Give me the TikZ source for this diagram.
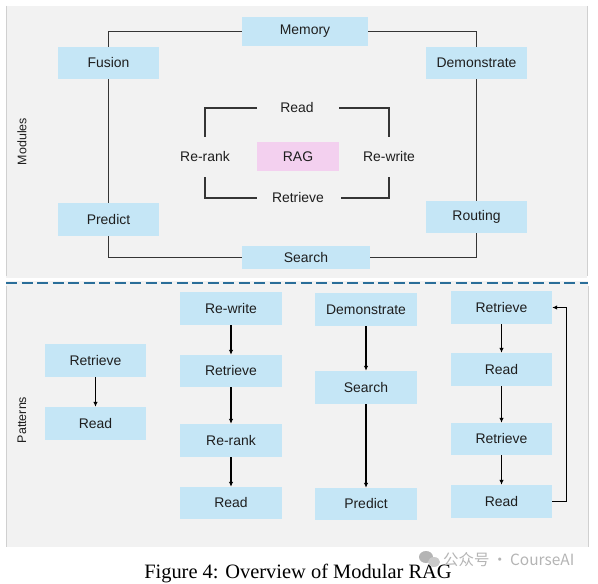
\documentclass[tikz,border=0pt]{standalone}
\usepackage{fontspec}
\setmainfont{Liberation Sans}
\newfontfamily\serifcap{Liberation Serif}
\newfontfamily\cjk{Noto Sans CJK SC}
\usetikzlibrary{arrows.meta}
\definecolor{panel}{HTML}{F2F2F2}
\definecolor{paneledge}{HTML}{D0D0D0}
\definecolor{boxblue}{HTML}{C5E6F6}
\definecolor{boxpink}{HTML}{F3D0EF}
\definecolor{dashblue}{HTML}{2A6E99}
\definecolor{txt}{HTML}{1E1E1E}
\definecolor{wm}{HTML}{B4B4B4}
\begin{document}
\begin{tikzpicture}[x=1bp,y=-1bp,
  lbl/.style={font=\fontsize{14}{16}\selectfont, text=txt, inner sep=0pt},
  mbox/.style={lbl, fill=boxblue, minimum width=101bp, minimum height=32bp},
  pbox/.style={lbl, fill=boxpink, minimum width=82bp, minimum height=29bp},
  conn/.style={draw=txt!90, line width=1.3bp},
  flow/.style={draw=black, line width=1.1bp, -{Latex[length=5bp,width=4.5bp]}},
  side/.style={font=\fontsize{12.5}{14}\selectfont, text=txt, rotate=90, inner sep=0pt}
]
\useasboundingbox (0,0) rectangle (598,584);
% panels
\fill[panel] (6,6) rectangle (587,278);
\fill[panel] (6,281) rectangle (588,547);
\draw[paneledge, line width=1bp] (6,6) -- (6,276) (6,286) -- (6,547);
\draw[paneledge, line width=1bp] (587,6) -- (587,276) (588,286) -- (588,547);
\draw[dashblue, line width=1.5bp, dash pattern=on 11bp off 4.5bp] (6,283) -- (588,283);

% side labels
\node[side] (modlbl) at (22,141.5) {Modules};
\node[side] (patlbl) at (22,420) {Patterns};

% upper modules
\node[mbox, minimum width=126bp, minimum height=29bp] (mem) at (305,31.5) {Memory};
\node[mbox] (fus) at (108.5,63) {Fusion};
\node[mbox] (dem) at (476.5,63) {Demonstrate};
\node[mbox, minimum height=33bp] (pre) at (108.5,219.5) {Predict};
\node[mbox] (rou) at (476.5,217) {Routing};
\node[mbox, minimum width=128bp, minimum height=23bp] (sea) at (306,257.5) {Search};

\draw[conn] (mem.west) -| (fus.north);
\draw[conn] (fus.south) -- (pre.north);
\draw[conn] (pre.south) |- (sea.west);
\draw[conn] (mem.east) -| (dem.north);
\draw[conn] (dem.south) -- (rou.north);
\draw[conn] (rou.south) |- (sea.east);

% inner RAG loop
\node[pbox] (rag) at (298,156.5) {RAG};
\node[lbl] (rd) at (297,108) {Read};
\node[lbl] (rr) at (205,157) {Re-rank};
\node[lbl] (rw) at (389,157) {Re-write};
\node[lbl] (rt) at (298,198) {Retrieve};
\coordinate (lt) at (257,108);
\coordinate (rtp) at (339,108);
\coordinate (lb) at (257,198);
\coordinate (rb) at (341,198);
\coordinate (rrtop) at (205,137);
\coordinate (rrbot) at (205,177);
\coordinate (rwtop) at (389,137);
\coordinate (rwbot) at (389,177);
\draw[conn] (lt) -| (rrtop);
\draw[conn] (rrbot) |- (lb);
\draw[conn] (rtp) -| (rwtop);
\draw[conn] (rwbot) |- (rb);

% patterns column 1
\node[mbox, minimum height=33bp] (c1a) at (95.5,360.5) {Retrieve};
\node[mbox, minimum height=33bp] (c1b) at (95.5,423.5) {Read};
\draw[flow] (c1a) -- (c1b);

% column 2
\node[mbox, minimum width=102bp, minimum height=33bp] (c2a) at (231,308.5) {Re-write};
\node[mbox, minimum width=102bp] (c2b) at (231,371) {Retrieve};
\node[mbox, minimum width=102bp, minimum height=33bp] (c2c) at (231,440.5) {Re-rank};
\node[mbox, minimum width=102bp] (c2d) at (231,503) {Read};
\draw[flow] (c2a) -- (c2b);
\draw[flow] (c2b) -- (c2c);
\draw[flow] (c2c) -- (c2d);

% column 3
\node[mbox, minimum width=102bp, minimum height=33bp] (c3a) at (366,309.5) {Demonstrate};
\node[mbox, minimum width=102bp, minimum height=33bp] (c3b) at (366,387.5) {Search};
\node[mbox, minimum width=102bp] (c3c) at (366,504) {Predict};
\draw[flow] (c3a) -- (c3b);
\draw[flow] (c3b) -- (c3c);

% column 4
\node[mbox, minimum height=33bp] (c4a) at (501.5,307.5) {Retrieve};
\node[mbox, minimum height=33bp] (c4b) at (501.5,369.5) {Read};
\node[mbox] (c4c) at (501.5,439) {Retrieve};
\node[mbox, minimum height=33bp] (c4d) at (501.5,501.5) {Read};
\draw[flow] (c4a) -- (c4b);
\draw[flow] (c4b) -- (c4c);
\draw[flow] (c4c) -- (c4d);
\draw[flow] (c4d.east) -- ++(14,0) |- (c4a.east);

% caption
\node[anchor=base, inner sep=0pt, font=\serifcap\fontsize{20.5}{24}\selectfont] (cap) at (298,578) {Figure 4: Overview of Modular RAG};

% watermark
\fill[wm] (426,557) ellipse (7bp and 6bp);
\fill[wm!70] (434,562) ellipse (6bp and 5bp);
\node[anchor=west, inner sep=0pt, text=wm, font=\cjk\fontsize{15.5}{18}\selectfont] (wmk) at (443,560) {公众号\,·\,CourseAI};
\end{tikzpicture}
\end{document}
